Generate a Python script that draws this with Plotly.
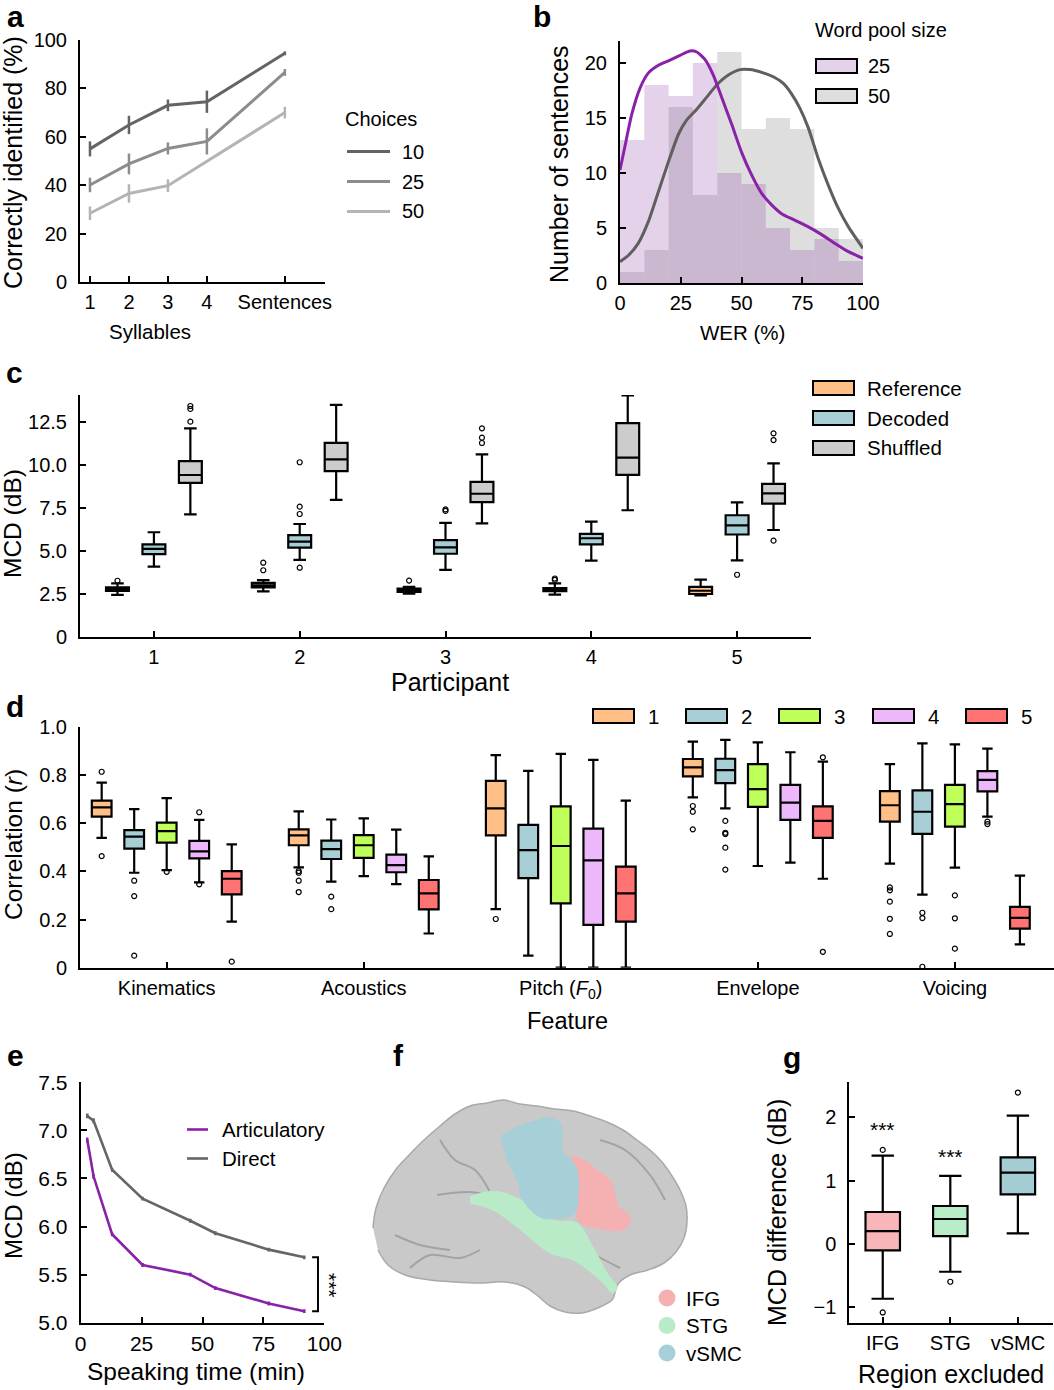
import plotly.graph_objects as go

W, H = 1054, 1390
FONT = "Liberation Sans, Arial, Helvetica, sans-serif"

# ---------------- panel a: identification accuracy ----------------
a_tick_pos = [1, 2, 3, 4, 6]
a_tick_text = ["1", "2", "3", "4", "Sentences"]
a_x_10 = [1, 2, 3, 4, 6]
a_acc_10 = [55.0, 64.9, 73.0, 74.5, 94.5]
a_err_10 = [3.1, 3.8, 2.4, 4.6, 0.8]
a_x_25 = [1, 2, 3, 4, 6]
a_acc_25 = [40.1, 48.8, 55.2, 58.1, 86.6]
a_err_25 = [3.0, 4.3, 2.5, 5.4, 1.4]
a_x_50 = [1, 2, 3, 6]
a_acc_50 = [28.4, 36.6, 39.8, 70.0]
a_err_50 = [2.8, 3.8, 2.6, 2.4]
a_choices = ["10", "25", "50"]
a_colors = ["#646464", "#8c8c8c", "#b4b4b4"]

# ---------------- panel b: WER histograms ----------------
b_bin_centers = [5, 15, 25, 35, 45, 55, 65, 75, 85, 95]
b_counts_25 = [13, 18, 17, 20, 10, 9, 5, 3, 4, 2]
b_counts_50 = [1, 3, 16, 8, 21, 14, 15, 14, 5, 4]
b_kde_x_25 = [0, 2.1, 4.8, 8.2, 11.7, 15.8, 19.9, 24.7, 28.8, 31.6, 35, 38.4, 41.8, 46,
              50, 54.2, 58.3, 62.4, 66.5, 72, 77.5, 83, 88.5, 94, 100]
b_kde_y_25 = [10.27, 12.5, 15.3, 17.7, 19.1, 19.8, 20.2, 20.7, 21.1, 21.0, 20.3, 18.9,
              16.9, 14.4, 11.9, 9.8, 8.15, 7.1, 6.3, 5.7, 5.1, 4.4, 3.6, 2.85, 2.24]
b_kde_x_50 = [0, 3.4, 7.5, 11.7, 15.8, 19.9, 24, 27.4, 31.6, 35.7, 39.8, 44.6, 49.4,
              53.5, 58.3, 63.1, 67.2, 70.6, 74, 77.5, 81.6, 85.7, 89.8, 94, 100]
b_kde_y_50 = [1.94, 2.5, 3.6, 5.6, 8.3, 11.0, 13.5, 14.8, 15.8, 16.9, 18.0, 18.9, 19.4,
              19.4, 19.15, 18.75, 18.15, 17.2, 15.9, 14.1, 11.3, 8.9, 6.8, 5.1, 3.15]
b_pools = ["25", "50"]

# ---------------- panel c: MCD per participant (lo, q1, median, q3, hi) ----------------
c_participants = [1, 2, 3, 4, 5]
c_conditions = ["Reference", "Decoded", "Shuffled"]
c_colors = ["#ffbf86", "#a7ced4", "#cccccc"]
c_ref_stats = [(2.45, 2.68, 2.78, 2.88, 3.12), (2.65, 2.88, 3.0, 3.15, 3.31),
               (2.52, 2.62, 2.72, 2.82, 2.92), (2.46, 2.66, 2.75, 2.84, 3.12),
               (2.42, 2.5, 2.69, 2.92, 3.33)]
c_dec_stats = [(4.09, 4.82, 5.12, 5.38, 6.09), (4.48, 5.2, 5.54, 5.92, 6.57),
               (3.9, 4.84, 5.21, 5.63, 6.63), (4.44, 5.38, 5.74, 6.0, 6.71),
               (4.46, 5.96, 6.49, 7.08, 7.83)]
c_shuf_stats = [(7.13, 8.96, 9.42, 10.22, 12.13), (7.97, 9.64, 10.33, 11.29, 13.5),
                (6.61, 7.84, 8.33, 9.02, 10.62), (7.37, 9.43, 10.43, 12.43, 14.05),
                (6.22, 7.76, 8.35, 8.9, 10.1)]
c_ref_out = [[3.27], [3.88, 4.32], [3.28], [3.32, 3.4], []]
c_dec_out = [[], [4.03, 7.15, 7.58, 10.16], [7.33, 7.42], [], [3.62]]
c_shuf_out = [[12.52, 13.26, 13.43], [], [11.28, 11.59, 12.13], [], [5.6, 11.45, 11.84]]

# ---------------- panel d: correlation per feature ----------------
d_features = ["Kinematics", "Acoustics", "Pitch (<i>F</i><sub>0</sub>)", "Envelope", "Voicing"]
d_participants = ["1", "2", "3", "4", "5"]
d_colors = ["#ffbf86", "#a7ced4", "#bfff5a", "#edb8fb", "#ff7373"]
d_stats_p1 = [(0.539, 0.627, 0.665, 0.693, 0.768), (0.416, 0.508, 0.549, 0.574, 0.649),
              (0.243, 0.549, 0.661, 0.775, 0.882), (0.707, 0.794, 0.831, 0.866, 0.938),
              (0.432, 0.606, 0.674, 0.733, 0.845)]
d_stats_p2 = [(0.394, 0.494, 0.544, 0.571, 0.658), (0.357, 0.451, 0.492, 0.527, 0.615),
              (0.05, 0.372, 0.488, 0.593, 0.817), (0.661, 0.766, 0.820, 0.867, 0.945),
              (0.303, 0.555, 0.647, 0.736, 0.931)]
d_stats_p3 = [(0.405, 0.519, 0.567, 0.602, 0.704), (0.380, 0.456, 0.508, 0.550, 0.620),
              (0.0, 0.267, 0.505, 0.669, 0.887), (0.422, 0.667, 0.741, 0.845, 0.935),
              (0.415, 0.585, 0.679, 0.759, 0.927)]
d_stats_p4 = [(0.354, 0.454, 0.483, 0.526, 0.613), (0.347, 0.396, 0.426, 0.469, 0.573),
              (0.0, 0.178, 0.445, 0.577, 0.862), (0.436, 0.613, 0.685, 0.759, 0.894),
              (0.627, 0.732, 0.779, 0.816, 0.909)]
d_stats_p5 = [(0.191, 0.304, 0.369, 0.401, 0.512), (0.142, 0.242, 0.308, 0.364, 0.462),
              (0.0, 0.191, 0.308, 0.419, 0.693), (0.369, 0.539, 0.609, 0.669, 0.855),
              (0.097, 0.162, 0.207, 0.252, 0.382)]
d_out_p1 = [[0.813, 0.463], [0.401, 0.394, 0.361, 0.314], [0.202], [0.671, 0.647, 0.574],
            [0.333, 0.321, 0.274, 0.203, 0.14]]
d_out_p2 = [[0.361, 0.297, 0.05], [0.295, 0.243], [], [0.609, 0.56, 0.555, 0.498, 0.407],
            [0.228, 0.206, 0.004]]
d_out_p3 = [[0.398], [], [], [], [0.3, 0.205, 0.079]]
d_out_p4 = [[0.645, 0.346], [], [], [], [0.606, 0.596]]
d_out_p5 = [[0.025], [], [], [0.873, 0.066], []]

# ---------------- panel e: MCD vs speaking time ----------------
e_time = [2.7, 5.3, 12.9, 25.4, 45, 55.3, 77.2, 91.8]
e_artic = [6.90, 6.52, 5.92, 5.60, 5.50, 5.36, 5.20, 5.12]
e_direct = [7.15, 7.10, 6.59, 6.29, 6.06, 5.93, 5.76, 5.68]
e_err = [0.025, 0.025, 0.02, 0.02, 0.02, 0.02, 0.02, 0.02]
e_names = ["Articulatory", "Direct"]
e_colors = ["#8a22a8", "#666666"]

# ---------------- panel f: brain illustration (image pixels) ----------------
brain_x = [373, 376, 384, 397, 410, 424, 440, 455, 470, 487, 503, 520, 537, 555, 573, 590,
           607, 623, 637, 650, 662, 672, 680, 686, 687, 684, 676, 664, 648, 630, 618, 614,
           612, 600, 582, 565, 550, 538, 525, 505, 480, 455, 430, 405, 388, 378]
brain_y = [1228, 1208, 1188, 1168, 1154, 1140, 1126, 1114, 1106, 1103, 1100, 1104, 1106,
           1109, 1111, 1116, 1122, 1130, 1140, 1150, 1162, 1176, 1190, 1206, 1222, 1238,
           1252, 1263, 1270, 1275, 1284, 1296, 1300, 1307, 1313, 1312, 1306, 1296, 1287,
           1282, 1283, 1282, 1280, 1275, 1265, 1250]
sulci_x = [[437, 470, 500, 530, 560, 590, 620], [440, 455, 475, 490], [395, 420, 450],
           [600, 625, 650, 665], [410, 430, 460, 480]]
sulci_y = [[1195, 1192, 1198, 1212, 1232, 1252, 1268], [1140, 1160, 1170, 1192],
           [1235, 1245, 1250], [1140, 1150, 1175, 1200], [1268, 1255, 1258, 1250]]
vsmc_x = [500, 517, 532, 547, 560, 563, 571, 577, 578, 575, 560, 540, 523, 517, 507]
vsmc_y = [1137, 1127, 1122, 1118, 1123, 1153, 1160, 1170, 1195, 1213, 1218, 1217, 1200,
          1180, 1160]
ifg_x = [570, 583, 597, 610, 615, 619, 627, 630, 622, 607, 593, 579, 577, 577]
ifg_y = [1155, 1160, 1170, 1180, 1195, 1208, 1213, 1223, 1230, 1230, 1227, 1222, 1200, 1173]
stg_x = [470, 485, 500, 527, 553, 577, 593, 607, 617, 613, 600, 573, 550, 517, 493, 470]
stg_y = [1197, 1192, 1192, 1203, 1220, 1223, 1247, 1273, 1287, 1293, 1280, 1260, 1253,
         1227, 1210, 1203]
f_regions = ["IFG", "STG", "vSMC"]
f_colors = ["#f5b0b2", "#b9ebc8", "#a6cfd8"]

# ---------------- panel g: region exclusion ----------------
g_regions = ["IFG", "STG", "vSMC"]
g_stats = [(-0.863, -0.1, 0.205, 0.505, 1.395), (-0.437, 0.126, 0.395, 0.6, 1.074),
           (0.168, 0.784, 1.126, 1.368, 2.026)]
g_out = [[1.484, -1.079], [-0.595], [2.389]]
g_star_y = [1.8, 1.38, 2.69]
g_colors = ["#f9b6b8", "#b9edc8", "#a3cdd3"]


def xd(x0, x1):
    return [x0 / W, x1 / W]


def yd(top, bottom):
    return [1 - bottom / H, 1 - top / H]


def px(x):
    return x / W


def py(y):
    return 1 - y / H


def axis_style(**kw):
    base = dict(showline=True, linecolor="black", linewidth=2, ticks="inside", ticklen=6,
                tickwidth=2, tickcolor="black", showgrid=False, zeroline=False,
                tickfont=dict(size=20, color="black", family=FONT), fixedrange=True,
                ticklabelstandoff=7, automargin=False)
    base.update(kw)
    return base


def x_axis_style(**kw):
    kw.setdefault("ticklabelstandoff", 1)
    return axis_style(**kw)


fig = go.Figure()
annotations = []
shapes = []


def label(text, x, y, size=20, xanchor="center", yanchor="middle", angle=0, bold=False):
    if bold:
        text = "<b>" + text + "</b>"
    annotations.append(dict(text=text, x=px(x), y=py(y), xref="paper", yref="paper",
                            xanchor=xanchor, yanchor=yanchor, textangle=angle, showarrow=False,
                            font=dict(size=size, color="black", family=FONT)))


def swatch(x0, x1, yc, h, color):
    shapes.append(dict(type="rect", xref="paper", yref="paper", x0=px(x0), x1=px(x1),
                       y0=py(yc + h / 2), y1=py(yc - h / 2), fillcolor=color,
                       line=dict(color="black", width=2)))


def add_boxes(xs, stats, color, width, whisker, xa, ya):
    fig.add_trace(go.Box(
        x=xs, lowerfence=[s[0] for s in stats], q1=[s[1] for s in stats],
        median=[s[2] for s in stats], q3=[s[3] for s in stats],
        upperfence=[s[4] for s in stats], width=width, whiskerwidth=whisker,
        fillcolor=color, line=dict(color="black", width=2.2), boxpoints=False,
        xaxis=xa, yaxis=ya, showlegend=False, hoverinfo="skip"))


def add_outliers(xs, groups, xa, ya):
    ox, oy = [], []
    for x, vals in zip(xs, groups):
        for v in vals:
            ox.append(x)
            oy.append(v)
    fig.add_trace(go.Scatter(
        x=ox, y=oy, mode="markers", xaxis=xa, yaxis=ya, showlegend=False, hoverinfo="skip",
        cliponaxis=False,
        marker=dict(symbol="circle-open", size=5, color="black", line=dict(width=1.2))))


# ---- a
for xs, ys, err, color in zip([a_x_10, a_x_25, a_x_50], [a_acc_10, a_acc_25, a_acc_50],
                              [a_err_10, a_err_25, a_err_50], a_colors):
    fig.add_trace(go.Scatter(
        x=xs, y=ys, mode="lines", line=dict(color=color, width=3), xaxis="x", yaxis="y",
        error_y=dict(type="data", array=err, width=0, thickness=2.5, color=color),
        showlegend=False, hoverinfo="skip"))
label("Choices", 343, 119, 20, xanchor="left")
for i, (name, color) in enumerate(zip(a_choices, a_colors)):
    yy = 151.5 + 30 * i
    shapes.append(dict(type="line", xref="paper", yref="paper", x0=px(347), x1=px(390),
                       y0=py(yy), y1=py(yy), line=dict(color=color, width=3)))
    label(name, 400, yy, 20, xanchor="left")
label("Correctly identified (%)", 13, 163, 25, angle=-90)
label("Syllables", 150, 331, 20.5)

# ---- b
fig.add_trace(go.Bar(x=b_bin_centers, y=b_counts_50, width=10, marker=dict(
    color="rgba(0,0,0,0.13)", line=dict(width=0)), xaxis="x2", yaxis="y2",
    showlegend=False, hoverinfo="skip"))
fig.add_trace(go.Bar(x=b_bin_centers, y=b_counts_25, width=10, marker=dict(
    color="rgba(138,59,164,0.23)", line=dict(width=0)), xaxis="x2", yaxis="y2",
    showlegend=False, hoverinfo="skip"))
fig.add_trace(go.Scatter(x=b_kde_x_50, y=b_kde_y_50, mode="lines", line=dict(
    color="#5f5f5f", width=3, shape="spline", smoothing=0.6), xaxis="x2", yaxis="y2",
    showlegend=False, hoverinfo="skip"))
fig.add_trace(go.Scatter(x=b_kde_x_25, y=b_kde_y_25, mode="lines", line=dict(
    color="#8a22a8", width=3, shape="spline", smoothing=0.6), xaxis="x2", yaxis="y2",
    showlegend=False, hoverinfo="skip"))
label("Word pool size", 813, 30, 20, xanchor="left")
for i, (name, color) in enumerate(zip(b_pools, ["#e4d2ea", "#dedede"])):
    yy = 66 + 30 * i
    swatch(816, 857, yy, 14, color)
    label(name, 866, yy, 20, xanchor="left")
label("Number of sentences", 559, 164, 25, angle=-90)
label("WER (%)", 742, 332, 20.5)

# ---- c
c_offsets = [-0.25, 0.0, 0.25]
for stats, outs, color, off in zip([c_ref_stats, c_dec_stats, c_shuf_stats],
                                   [c_ref_out, c_dec_out, c_shuf_out], c_colors, c_offsets):
    xs = [p + off for p in c_participants]
    add_boxes(xs, stats, color, 0.157, 0.55, "x3", "y3")
    add_outliers(xs, outs, "x3", "y3")
for i, (name, color) in enumerate(zip(c_conditions, c_colors)):
    yy = 388 + 30 * i
    swatch(813, 854, yy, 14, color)
    label(name, 865, yy, 20.5, xanchor="left")
label("MCD (dB)", 13, 524, 24.5, angle=-90)
label("Participant", 450, 682, 25)

# ---- d
d_all_stats = [d_stats_p1, d_stats_p2, d_stats_p3, d_stats_p4, d_stats_p5]
d_all_out = [d_out_p1, d_out_p2, d_out_p3, d_out_p4, d_out_p5]
for k, (stats, outs, color) in enumerate(zip(d_all_stats, d_all_out, d_colors)):
    xs = [f + (k - 2) * 0.165 for f in range(len(d_features))]
    add_boxes(xs, stats, color, 0.1, 0.53, "x4", "y4")
    add_outliers(xs, outs, "x4", "y4")
d_swatch_left = [593, 686, 779, 873, 966]
for x0, name, color in zip(d_swatch_left, d_participants, d_colors):
    swatch(x0, x0 + 41, 716, 14, color)
    label(name, x0 + 53, 716, 20.5, xanchor="left")
label("Correlation (<i>r</i>)", 13, 845, 24.5, angle=-90)
label("Feature", 567, 1021, 23.5)

# ---- e
for ys, color in zip([e_artic, e_direct], e_colors):
    fig.add_trace(go.Scatter(
        x=e_time, y=ys, mode="lines", line=dict(color=color, width=2.6), xaxis="x5",
        yaxis="y5", error_y=dict(type="data", array=e_err, width=0, thickness=2.5, color=color),
        showlegend=False, hoverinfo="skip"))
fig.add_trace(go.Scatter(
    x=[95, 97.4, 97.4, 95], y=[e_direct[-1], e_direct[-1], e_artic[-1], e_artic[-1]],
    mode="lines", line=dict(color="black", width=2), xaxis="x5", yaxis="y5",
    cliponaxis=False, showlegend=False, hoverinfo="skip"))
label("***", 330, 1285, 21, angle=90)
for i, (name, color) in enumerate(zip(e_names, e_colors)):
    yy = 1129.5 + 29 * i
    shapes.append(dict(type="line", xref="paper", yref="paper", x0=px(187), x1=px(208),
                       y0=py(yy), y1=py(yy), line=dict(color=color, width=2.6)))
    label(name, 220, yy, 20.5, xanchor="left")
label("MCD (dB)", 13, 1206, 24, angle=-90)
label("Speaking time (min)", 196, 1371, 24.5)

# ---- f
fig.add_trace(go.Scatter(x=brain_x, y=brain_y, fill="toself", fillcolor="#c9c9c9",
                         mode="lines", line=dict(color="#a9a9a9", width=1.5, shape="spline"),
                         xaxis="x6", yaxis="y6", showlegend=False, hoverinfo="skip"))
for sx, sy in zip(sulci_x, sulci_y):
    fig.add_trace(go.Scatter(x=sx, y=sy, mode="lines",
                             line=dict(color="#a3a3a3", width=2, shape="spline"),
                             xaxis="x6", yaxis="y6", showlegend=False, hoverinfo="skip"))
for rx, ry, color in zip([ifg_x, stg_x, vsmc_x], [ifg_y, stg_y, vsmc_y], f_colors):
    fig.add_trace(go.Scatter(x=rx, y=ry, fill="toself", fillcolor=color, mode="lines",
                             line=dict(color=color, width=1, shape="spline"),
                             xaxis="x6", yaxis="y6", showlegend=False, hoverinfo="skip"))
for i, (name, color) in enumerate(zip(f_regions, f_colors)):
    yy = 1298 + 27.5 * i
    shapes.append(dict(type="circle", xref="paper", yref="paper", x0=px(658.5), x1=px(675.5),
                       y0=py(yy + 8.5), y1=py(yy - 8.5), fillcolor=color, line=dict(width=0)))
    label(name, 684, yy, 20.5, xanchor="left")

# ---- g
g_pos = list(range(len(g_regions)))
for pos, stats, outs, color in zip(g_pos, g_stats, g_out, g_colors):
    add_boxes([pos], [stats], color, 0.51, 0.65, "x7", "y7")
    add_outliers([pos], [outs], "x7", "y7")
for pos, sy in zip(g_pos, g_star_y):
    annotations.append(dict(text="***", x=pos, y=sy, xref="x7", yref="y7", showarrow=False,
                            font=dict(size=21, color="black", family=FONT)))
label("MCD difference (dB)", 777, 1213, 25, angle=-90)
label("Region excluded", 951, 1374, 25)

# ---- panel letters
for letter, lx, ly in [("a", 15, 17), ("b", 542, 17), ("c", 14, 372), ("d", 15, 706),
                       ("e", 15, 1055), ("f", 398, 1055), ("g", 792, 1057)]:
    label(letter, lx, ly, 30, bold=True)

fig.update_layout(
    width=W, height=H, margin=dict(l=0, r=0, t=0, b=0, pad=0, autoexpand=False),
    paper_bgcolor="white",
    plot_bgcolor="rgba(0,0,0,0)", barmode="overlay", showlegend=False,
    font=dict(family=FONT, color="black"), annotations=annotations, shapes=shapes,
    xaxis=x_axis_style(domain=xd(80, 325), range=[0.744, 7.03], tickvals=a_tick_pos,
                       ticktext=a_tick_text, anchor="y"),
    yaxis=axis_style(domain=yd(40, 282), range=[0, 100], tickvals=[0, 20, 40, 60, 80, 100],
                     anchor="x"),
    xaxis2=x_axis_style(domain=xd(620, 863), range=[0, 100], tickvals=[0, 25, 50, 75, 100],
                        anchor="y2"),
    yaxis2=axis_style(domain=yd(41, 283), range=[0, 22], tickvals=[0, 5, 10, 15, 20],
                      anchor="x2"),
    xaxis3=x_axis_style(domain=xd(80, 811), range=[0.493, 5.507], tickvals=c_participants,
                        anchor="y3"),
    yaxis3=axis_style(domain=yd(395, 637), range=[0, 14.07],
                      tickvals=[0, 2.5, 5, 7.5, 10, 12.5],
                      ticktext=["0", "2.5", "5.0", "7.5", "10.0", "12.5"], anchor="x3"),
    xaxis4=x_axis_style(domain=xd(80, 1054), range=[-0.44, 4.503],
                        tickvals=list(range(len(d_features))), ticktext=d_features,
                        anchor="y4"),
    yaxis4=axis_style(domain=yd(726.7, 967.7), range=[0, 1],
                      tickvals=[0, 0.2, 0.4, 0.6, 0.8, 1.0],
                      ticktext=["0", "0.2", "0.4", "0.6", "0.8", "1.0"], anchor="x4"),
    xaxis5=x_axis_style(domain=xd(80.7, 324.3), range=[0, 100], tickvals=[0, 25, 50, 75, 100],
                        anchor="y5", tickfont=dict(size=21, color="black", family=FONT)),
    yaxis5=axis_style(domain=yd(1082.3, 1322.7), range=[5, 7.5],
                      tickvals=[5, 5.5, 6, 6.5, 7, 7.5], tickformat=".1f", anchor="x5",
                      tickfont=dict(size=21, color="black", family=FONT)),
    xaxis6=dict(domain=xd(360, 760), range=[360, 760], visible=False, fixedrange=True,
                anchor="y6"),
    yaxis6=dict(domain=yd(1080, 1390), range=[1390, 1080], visible=False, fixedrange=True,
                anchor="x6"),
    xaxis7=x_axis_style(domain=xd(849.3, 1053), range=[-0.495, 2.52], tickvals=g_pos,
                        ticktext=g_regions, anchor="y7"),
    yaxis7=axis_style(domain=yd(1081.7, 1323.3), range=[-1.25, 2.56], tickvals=[-1, 0, 1, 2],
                      ticktext=["\u22121", "0", "1", "2"], anchor="x7"),
)

# pin the figure to the top-left corner so the page is exactly the window size
pin_page = ("document.body.style.margin='0';"
            "var gd=document.getElementById('{plot_id}');"
            "gd.style.position='fixed';gd.style.left='0px';gd.style.top='0px';")
fig.write_html("out.html", post_script=pin_page, config={"displayModeBar": False})
